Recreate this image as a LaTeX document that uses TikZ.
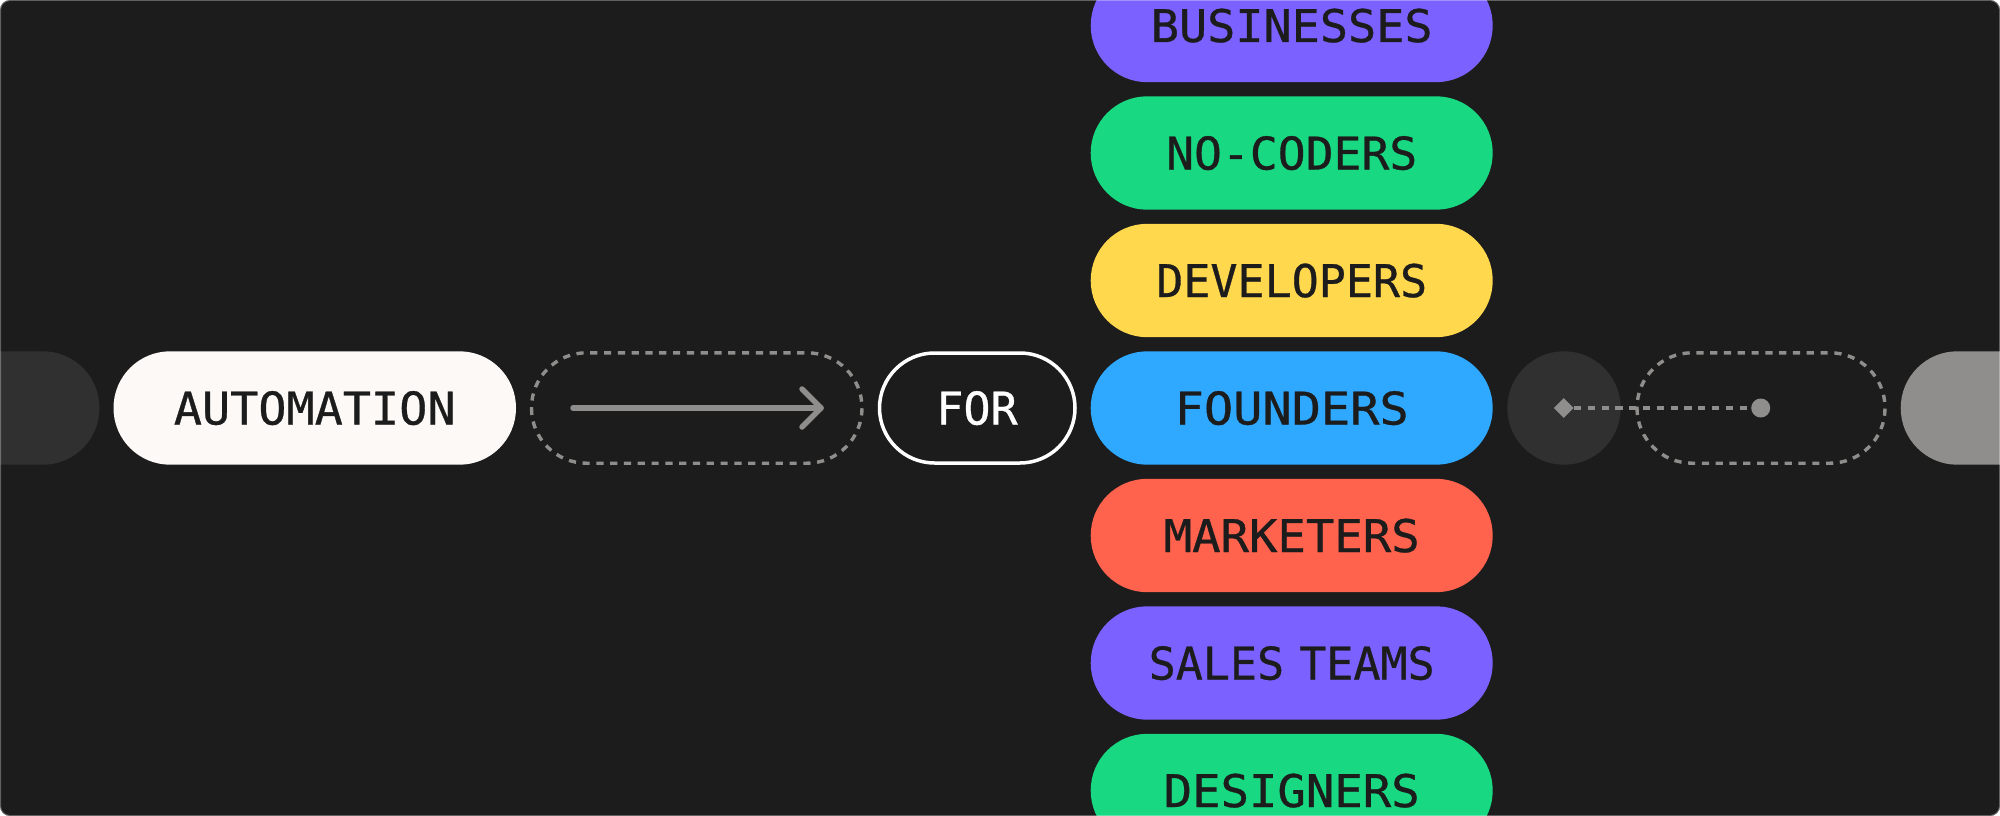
\documentclass[tikz,border=0pt]{standalone}
\usepackage{fontspec}
\usetikzlibrary{shapes.geometric}
\setmainfont[FakeBold=0.7]{DejaVu Sans Mono}
\definecolor{bgdark}{HTML}{1C1C1C}
\definecolor{cream}{HTML}{FCF9F6}
\definecolor{ghost}{HTML}{303030}
\definecolor{midgray}{HTML}{8F8E8C}
\definecolor{violet}{HTML}{7B61FF}
\definecolor{mint}{HTML}{18D882}
\definecolor{sun}{HTML}{FFD84D}
\definecolor{sky}{HTML}{2FA8FF}
\definecolor{coral}{HTML}{FF624D}
\tikzset{
  x=1pt,y=-1pt,
  pill/.style={rounded corners=56.6pt,draw=none},
  dashring/.style={draw=midgray,line width=3.4pt,dash pattern=on 7.2pt off 6.6pt,rounded corners=55pt},
  lbl/.style={font=\fontsize{45}{45}\selectfont,text=bgdark,inner sep=0pt,anchor=base},
  guide/.style={draw=midgray,line width=5.5pt,line cap=round,line join=round},
  dotted guide/.style={draw=midgray,line width=3.4pt,dash pattern=on 7.2pt off 6.6pt}
}
\begin{document}
\begin{tikzpicture}
\useasboundingbox (0,0) rectangle (2000,816);
\fill[white] (0,0) rectangle (2000,816);
\begin{scope}
\clip[rounded corners=10pt] (0,0) rectangle (2000,816);
\fill[bgdark] (0,0) rectangle (2000,816);
% side stubs
\fill[ghost,pill] (-120,351.3) rectangle (99.5,464.7);
\fill[midgray,pill] (1900.7,351.3) rectangle (2120,464.7);
% main pills
\fill[cream,pill] (113.5,351.3) rectangle (516,464.7);
\node[lbl] (automation) at (314.7,424.5) {\scalebox{1.04}[1]{AUTOMATION}};
\draw[dashring] (531.5,352.8) rectangle (862,463.2);
\coordinate (arrowstart) at (573,408);
\coordinate (arrowtip) at (821,408);
\draw[guide] (arrowstart) -- (arrowtip);
\draw[guide] (802,389) -- (arrowtip) -- (802,427);
\draw[draw=white,line width=3.5pt,rounded corners=55pt] (879.5,353) rectangle (1075,463);
\node[lbl,text=white] (for) at (977,424.5) {FOR};
% column
\foreach \yc/\col/\txt/\nm/\sx in {25.5/violet/BUSINESSES/businesses/1.04,153/mint/NO-CODERS/nocoders/1.03,280.5/sun/DEVELOPERS/developers/1.0,408/sky/FOUNDERS/founders/1.08,535.5/coral/MARKETERS/marketers/1.05,663/violet/SALES\hspace{-12pt} TEAMS/sales/1.0,790.5/mint/DESIGNERS/designers/1.05}{
  \fill[\col,pill] (1090.7,\yc-56.7) rectangle (1492.7,\yc+56.7);
  \node[lbl] (\nm) at (1291.7,\yc+16.5) {\scalebox{\sx}[1]{\txt}};
}
% right group
\node[circle,fill=ghost,minimum size=113.4pt,inner sep=0pt] (knob) at (1564,408) {};
\draw[dashring] (1637,352.8) rectangle (1885,463.2);
\node[diamond,fill=midgray,minimum size=20pt,inner sep=0pt,aspect=1] (dia) at (1563.7,408) {};
\node[circle,fill=midgray,minimum size=19pt,inner sep=0pt] (dot) at (1760.7,408) {};
\draw[dotted guide] (dia) -- (dot);
\draw[white,opacity=.3,line width=2pt,rounded corners=10pt] (0,0) rectangle (2000,816);
\end{scope}
\end{tikzpicture}
\end{document}
